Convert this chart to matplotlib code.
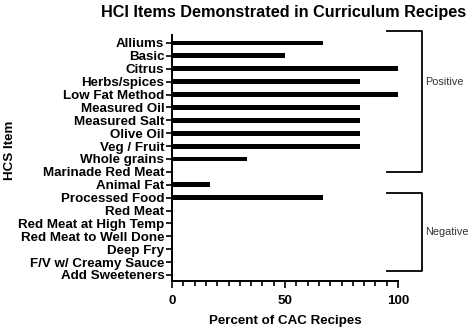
import matplotlib.pyplot as plt
from matplotlib.ticker import MultipleLocator

items = ["Alliums", "Basic", "Citrus", "Herbs/spices", "Low Fat Method",
         "Measured Oil", "Measured Salt", "Olive Oil", "Veg / Fruit",
         "Whole grains", "Marinade Red Meat", "Animal Fat", "Processed Food",
         "Red Meat", "Red Meat at High Temp", "Red Meat to Well Done",
         "Deep Fry", "F/V w/ Creamy Sauce", "Add Sweeteners"]
pct = [66.7, 50.0, 100.0, 83.3, 100.0, 83.3, 83.3, 83.3, 83.3, 33.3, 0,
       16.7, 66.7, 0, 0, 0, 0, 0, 0]
# bracket spans (in category positions), label position
groups = [("Positive", -0.93, 10.0, 3.05), ("Negative", 11.65, 17.7, 14.7)]

plt.rcParams['font.family'] = ['Liberation Sans', 'DejaVu Sans']

fig = plt.figure(figsize=(4.74, 3.33), dpi=100)
ax = fig.add_axes([172 / 474, 52 / 333, 226 / 474, 246 / 333])

ypos = list(range(len(items)))
ax.barh(ypos, pct, height=0.38, color='black')
ax.set_yticks(ypos)
ax.set_yticklabels(items, fontsize=9.6, fontweight='bold')
ax.set_ylim(len(items) - 1 + 0.47, -0.62)
ax.set_xlim(0, 100)
ax.xaxis.set_major_locator(MultipleLocator(50))
ax.xaxis.set_minor_locator(MultipleLocator(5))
for t in ax.get_xticklabels():
    t.set_fontweight('bold')
ax.tick_params(axis='x', labelsize=9.6, length=5, width=1.2, pad=5)
ax.tick_params(axis='x', which='minor', length=3.5, width=1.2)
ax.tick_params(axis='y', length=4.5, width=1.2, pad=1)
for s in ['top', 'right']:
    ax.spines[s].set_visible(False)
for s in ['left', 'bottom']:
    ax.spines[s].set_linewidth(1.4)

ax.set_xlabel("Percent of CAC Recipes", fontsize=9.6, fontweight='bold', labelpad=6)
ax.set_ylabel("HCS Item", fontsize=9.6, fontweight='bold')
ax.yaxis.set_label_coords(-0.69, 0.53)
fig.text(0.598, 0.963, "HCI Items Demonstrated in Curriculum Recipes",
         ha='center', va='center', fontsize=11.7, fontweight='bold')

for name, y0, y1, ly in groups:
    ax.plot([95, 110.5, 110.5, 95], [y0, y0, y1, y1], color='black',
            lw=1.3, clip_on=False)
    ax.text(111.8, ly, name, fontsize=7.8, color='#333333',
            ha='left', va='center', clip_on=False)

fig.savefig("out.png", dpi=100)
